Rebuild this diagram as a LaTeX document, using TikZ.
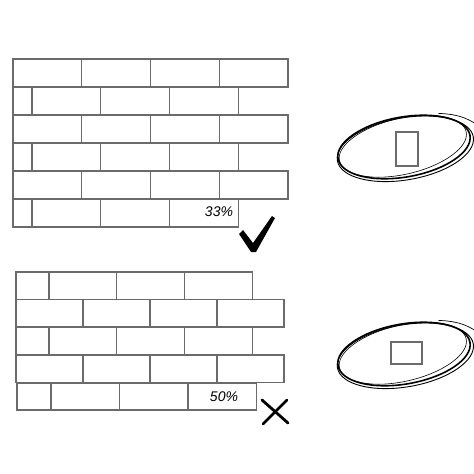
\documentclass[tikz,border=0pt]{standalone}
\usepackage{fontspec}
\usepackage{tikz}
\newfontfamily\tagfont{Liberation Sans}
\definecolor{mortar}{HTML}{6B6B6B}
\def\ovalone{(0,0) ellipse (67 and 30)}
\def\ovaltwo{(1,2) ellipse (69 and 31)}
\def\ovalthree{(-1,-1) ellipse (65 and 28)}

\begin{document}
\begin{tikzpicture}[x=1pt,y=-1pt,
	brick/.style={draw=mortar,line width=1.1pt},
	pen/.style={black,line cap=round},
	tag/.style={font=\tagfont\fontsize{14}{16}\selectfont\itshape}]
			\useasboundingbox (0,0) rectangle (474,474);
			% top wall, offset one third
			\foreach \y in {59,115,171}{
				\foreach \i in {0,...,3}
					\draw[brick] (13+68.75*\i,\y) rectangle ++(68.75,28);
			}
			\foreach \y in {87,143,199}{
				\draw[brick] (13,\y) rectangle ++(19,28);
				\foreach \i in {0,1,2}
					\draw[brick] (32+68.75*\i,\y) rectangle ++(68.75,28);
			}
			\node[tag] (thirdlabel) at (219,212) {33\%};
			% bottom wall, offset one half
			\foreach \y in {272,327}{
				\draw[brick] (16,\y) rectangle ++(33,27.5);
				\foreach \i in {0,1,2}
					\draw[brick] (49+67.7*\i,\y) rectangle ++(67.7,27.5);
			}
			\foreach \y in {299.5,355}{
				\foreach \i in {0,...,3}
					\draw[brick] (16+67*\i,\y) rectangle ++(67,27.5);
			}
			\draw[brick] (17,383) rectangle ++(34,27);
			\foreach \i in {0,1,2}
				\draw[brick] (51+68.5*\i,383) rectangle ++(68.5,27);
			\node[tag] (halflabel) at (224,397) {50\%};
			% tick and cross
			\fill[black] (239,234) -- (243,230) -- (253,243) -- (272,216) -- (275,218) -- (256,252) -- (251,252) -- cycle;
			\draw[pen,line width=2.8pt] (262,400) -- (288,423);
			\draw[pen,line width=2.8pt] (287,400) -- (263,424);
			% sketched ovals
			\begin{scope}[shift={(404,147)},rotate=10]
				\draw[pen,line width=1.6pt] \ovalone;
				\draw[pen,line width=0.9pt] \ovaltwo;
				\draw[pen,line width=0.6pt,rotate=3] \ovalthree;
				\draw[pen,line width=0.7pt] (40,-27) .. controls (60,-23) and (72,-15) .. (80,-4);
			\end{scope}
			\draw[brick] (396,132) rectangle (418,166);
			\begin{scope}[shift={(404,354)},rotate=10]
				\draw[pen,line width=1.6pt] \ovalone;
				\draw[pen,line width=0.9pt] \ovaltwo;
				\draw[pen,line width=0.6pt,rotate=3] \ovalthree;
				\draw[pen,line width=0.7pt] (40,-27) .. controls (60,-23) and (72,-15) .. (80,-4);
			\end{scope}
			\draw[brick] (391,342) rectangle (422,364);
		\end{tikzpicture}
\end{document}
